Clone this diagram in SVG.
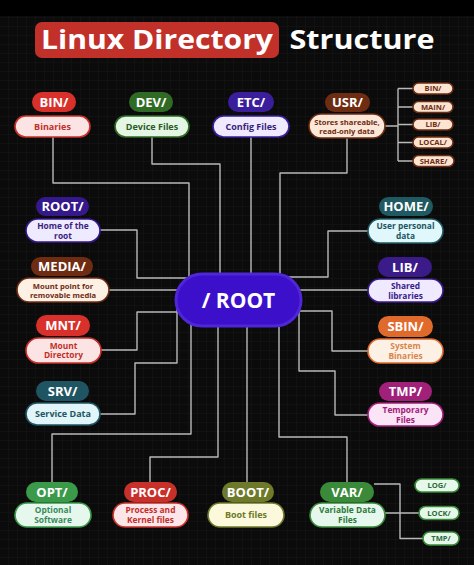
<svg xmlns="http://www.w3.org/2000/svg" width="474" height="565" viewBox="0 0 474 565">
<defs>
<pattern id="grid" width="9" height="9" patternUnits="userSpaceOnUse">
<rect width="9" height="9" fill="#0b0b0b"/>
<path d="M9 0V9H0" fill="none" stroke="#181818" stroke-width="0.8"/>
</pattern>
<style>
text{font-family:"Open Sans","Noto Sans","Liberation Sans",sans-serif;font-weight:700;text-anchor:middle}
.lbl{font-size:13px;fill:#fff}
.d{font-size:9px}
.d2{font-size:8.4px}
.s{font-size:7.6px}
.conn path{fill:none;stroke:#b9b9b9;stroke-width:1.4;stroke-linejoin:round}
.ds{stroke-width:1.6}
</style>
</defs>
<rect width="474" height="565" fill="url(#grid)"/>
<rect width="474" height="16" fill="#000"/>

<g id="title">
<rect x="35" y="22" width="244" height="36" rx="7" fill="#c2302a"/>
<text x="157" y="49" font-size="27" fill="#fff" textLength="232" lengthAdjust="spacingAndGlyphs">Linux Directory</text>
<text x="362" y="49" font-size="27" fill="#fff" textLength="145" lengthAdjust="spacingAndGlyphs">Structure</text>
</g>

<g class="conn" id="connectors">
<path d="M53,137 V183 H189 V290"/>
<path d="M152,137 V164 H220 V290"/>
<path d="M251,137 V290"/>
<path d="M347,138 V173 H280 V290"/>
<path d="M100,230 H137 V278 H200"/>
<path d="M109,290 H200"/>
<path d="M101,350 H137 V312 H200"/>
<path d="M100,414 H135 V363 H177 V300"/>
<path d="M368,231 H328 V277 H280"/>
<path d="M368,290 H280"/>
<path d="M368,351 H332 V311 H280"/>
<path d="M368,415 H335 V371 H299 V300"/>
<path d="M52,482 V434 H191 V300"/>
<path d="M150,482 V457 H218 V300"/>
<path d="M247,482 V300"/>
<path d="M347,482 V437 H279 V300"/>
<path d="M385,126 H398 M398,88.5 V161 M398,88.5 H413 M398,107 H413 M398,124.5 H413 M398,142.5 H413 M398,161 H413"/>
<path d="M374,484 H400 V538.5 H423 M385,513 H419"/>
</g>

<g id="root">
<rect x="176" y="274" width="125" height="52" rx="26" fill="#3c0fcb" stroke="#4f26d8" stroke-width="3"/>
<text x="238.5" y="307.5" font-size="21" fill="#fff">/ ROOT</text>
</g>

<g id="bin">
<rect x="32" y="92" width="44" height="20" rx="10" fill="#d8302a"/>
<text class="lbl" x="54" y="106.5">BIN/</text>
<rect class="ds" x="15" y="116" width="75" height="21" rx="10.5" fill="#fde4e4" stroke="#c8302a"/>
<text class="d" x="52.5" y="129.7" fill="#c0302a">Binaries</text>
</g>
<g id="dev">
<rect x="129" y="92" width="44" height="20" rx="10" fill="#2f6b25"/>
<text class="lbl" x="151" y="106.5">DEV/</text>
<rect class="ds" x="115" y="116" width="74" height="21" rx="10.5" fill="#e4f7e4" stroke="#2f6b25"/>
<text class="d" x="152" y="129.7" fill="#2f5a2a">Device Files</text>
</g>
<g id="etc">
<rect x="228" y="92" width="46" height="20" rx="10" fill="#3a1e9c"/>
<text class="lbl" x="251" y="106.5">ETC/</text>
<rect class="ds" x="213" y="116" width="76" height="21" rx="10.5" fill="#efeaff" stroke="#3a1e9c"/>
<text class="d" x="251" y="129.7" fill="#3a1e7c">Config Files</text>
</g>
<g id="usr">
<rect x="325" y="93" width="45" height="19" rx="9.5" fill="#6e2c12"/>
<text class="lbl" x="347.5" y="107.2">USR/</text>
<rect class="ds" x="309" y="114" width="76" height="24" rx="12" fill="#fbe8d8" stroke="#6e2c12"/>
<text class="s" x="347" y="124.5" fill="#6e2c12">Stores shareable,</text>
<text class="s" x="347" y="133.5" fill="#6e2c12">read-only data</text>
</g>
<g id="usr-sub">
<rect x="413" y="83" width="40" height="11" rx="5.5" fill="#fbe4d2" stroke="#6e2c12" stroke-width="1.5"/>
<text class="s" x="433" y="91.3" fill="#6e2c12">BIN/</text>
<rect x="413" y="101.5" width="40" height="11" rx="5.5" fill="#fbe4d2" stroke="#6e2c12" stroke-width="1.5"/>
<text class="s" x="433" y="109.8" fill="#6e2c12">MAIN/</text>
<rect x="413" y="119" width="40" height="11" rx="5.5" fill="#fbe4d2" stroke="#6e2c12" stroke-width="1.5"/>
<text class="s" x="433" y="127.3" fill="#6e2c12">LIB/</text>
<rect x="413" y="137" width="40" height="11" rx="5.5" fill="#fbe4d2" stroke="#6e2c12" stroke-width="1.5"/>
<text class="s" x="433" y="145.3" fill="#6e2c12">LOCAL/</text>
<rect x="413" y="155.5" width="41" height="11" rx="5.5" fill="#fbe4d2" stroke="#6e2c12" stroke-width="1.5"/>
<text class="s" x="433.5" y="163.8" fill="#6e2c12">SHARE/</text>
</g>

<g id="rootdir">
<rect x="36" y="197" width="53" height="19" rx="9.5" fill="#34188c"/>
<text class="lbl" x="62.5" y="211.2">ROOT/</text>
<rect class="ds" x="26" y="219" width="74" height="23" rx="11.5" fill="#eeeaff" stroke="#34188c"/>
<text class="d2" x="63" y="229" fill="#3a1e7c">Home of the</text>
<text class="d2" x="63" y="238.5" fill="#3a1e7c">root</text>
</g>
<g id="media">
<rect x="31" y="257" width="62" height="19" rx="9.5" fill="#6e2c12"/>
<text class="lbl" x="62" y="271.2">MEDIA/</text>
<rect class="ds" x="17" y="278" width="92" height="24" rx="12" fill="#fdf0e4" stroke="#6e2c12"/>
<text class="s" x="63" y="288.5" fill="#6e2c12">Mount point for</text>
<text class="s" x="63" y="297.5" fill="#6e2c12">removable media</text>
</g>
<g id="mnt">
<rect x="36" y="315" width="54" height="21" rx="10.5" fill="#d8302a"/>
<text class="lbl" x="63" y="330.2">MNT/</text>
<rect class="ds" x="26" y="338" width="75" height="25" rx="12.5" fill="#fde4e4" stroke="#c8302a"/>
<text class="d2" x="63.5" y="348.5" fill="#c0302a">Mount</text>
<text class="d2" x="63.5" y="358.3" fill="#c0302a">Directory</text>
</g>
<g id="srv">
<rect x="36" y="381" width="53" height="20" rx="10" fill="#1f5562"/>
<text class="lbl" x="62.5" y="395.7">SRV/</text>
<rect class="ds" x="26" y="403" width="74" height="22" rx="11" fill="#e2f6fa" stroke="#1f5562"/>
<text class="d" x="63" y="417.2" fill="#1f5562">Service Data</text>
</g>

<g id="home">
<rect x="379" y="197" width="54" height="19" rx="9.5" fill="#1f5a62"/>
<text class="lbl" x="406" y="211.2">HOME/</text>
<rect class="ds" x="368" y="219" width="75" height="24" rx="12" fill="#e0f7fb" stroke="#1f5a62"/>
<text class="d2" x="405.5" y="229" fill="#1f5562">User personal</text>
<text class="d2" x="405.5" y="238.8" fill="#1f5562">data</text>
</g>
<g id="lib">
<rect x="378" y="257" width="54" height="20" rx="10" fill="#3b1a8a"/>
<text class="lbl" x="405" y="271.7">LIB/</text>
<rect class="ds" x="368" y="279" width="75" height="23" rx="11.5" fill="#efeaff" stroke="#3b1a8a"/>
<text class="d2" x="405.5" y="289" fill="#3b1a8a">Shared</text>
<text class="d2" x="405.5" y="298.5" fill="#3b1a8a">libraries</text>
</g>
<g id="sbin">
<rect x="378" y="316" width="55" height="21" rx="10.5" fill="#e06a2c"/>
<text class="lbl" x="405.5" y="331.2">SBIN/</text>
<rect class="ds" x="368" y="339" width="75" height="24" rx="12" fill="#fdf0e4" stroke="#e06a2c"/>
<text class="d2" x="405.5" y="349" fill="#d8864c">System</text>
<text class="d2" x="405.5" y="358.8" fill="#d8864c">Binaries</text>
</g>
<g id="tmp">
<rect x="379" y="382" width="53" height="19" rx="9.5" fill="#a0207a"/>
<text class="lbl" x="405.5" y="396.2">TMP/</text>
<rect class="ds" x="368" y="403" width="75" height="23" rx="11.5" fill="#fbe4f6" stroke="#a0207a"/>
<text class="d2" x="405.5" y="413" fill="#a0207a">Temporary</text>
<text class="d2" x="405.5" y="422.5" fill="#a0207a">Files</text>
</g>

<g id="opt">
<rect x="26" y="482" width="52" height="20" rx="10" fill="#3a9a4a"/>
<text class="lbl" x="52" y="496.7">OPT/</text>
<rect class="ds" x="15" y="503" width="76" height="24" rx="12" fill="#e6f8ee" stroke="#3a9a4a"/>
<text class="d2" x="53" y="513" fill="#3a8a5a">Optional</text>
<text class="d2" x="53" y="522.8" fill="#3a8a5a">Software</text>
</g>
<g id="proc">
<rect x="124" y="482" width="53" height="20" rx="10" fill="#c8302a"/>
<text class="lbl" x="150.5" y="496.7">PROC/</text>
<rect class="ds" x="113" y="503" width="75" height="24" rx="12" fill="#fde6ea" stroke="#c8302a"/>
<text class="d2" x="150.5" y="513" fill="#c0302a">Process and</text>
<text class="d2" x="150.5" y="522.8" fill="#c0302a">Kernel files</text>
</g>
<g id="boot">
<rect x="222" y="482" width="52" height="20" rx="10" fill="#6e7a2a"/>
<text class="lbl" x="248" y="496.7">BOOT/</text>
<rect class="ds" x="208" y="503" width="76" height="24" rx="12" fill="#fbf8dc" stroke="#6e7a2a"/>
<text class="d" x="246" y="518.2" fill="#6e7a2a">Boot files</text>
</g>
<g id="var">
<rect x="320" y="482" width="54" height="20" rx="10" fill="#3a8a3a"/>
<text class="lbl" x="347" y="496.7">VAR/</text>
<rect class="ds" x="310" y="503" width="75" height="24" rx="12" fill="#e6f8ee" stroke="#3a8a3a"/>
<text class="d2" x="347.5" y="513" fill="#2e7a3a">Variable Data</text>
<text class="d2" x="347.5" y="522.8" fill="#2e7a3a">Files</text>
</g>
<g id="var-sub">
<rect x="415" y="479" width="44" height="13" rx="6.5" fill="#e6f8ea" stroke="#3a8a3a" stroke-width="1.6"/>
<text class="s" x="437" y="488.3" fill="#2e6a3a">LOG/</text>
<rect x="419" y="506.5" width="40" height="13" rx="6.5" fill="#e6f8ea" stroke="#3a8a3a" stroke-width="1.6"/>
<text class="s" x="439" y="515.8" fill="#2e6a3a">LOCK/</text>
<rect x="423" y="532" width="36" height="13" rx="6.5" fill="#e6f8ea" stroke="#3a8a3a" stroke-width="1.6"/>
<text class="s" x="441" y="541.3" fill="#2e6a3a">TMP/</text>
</g>
</svg>
